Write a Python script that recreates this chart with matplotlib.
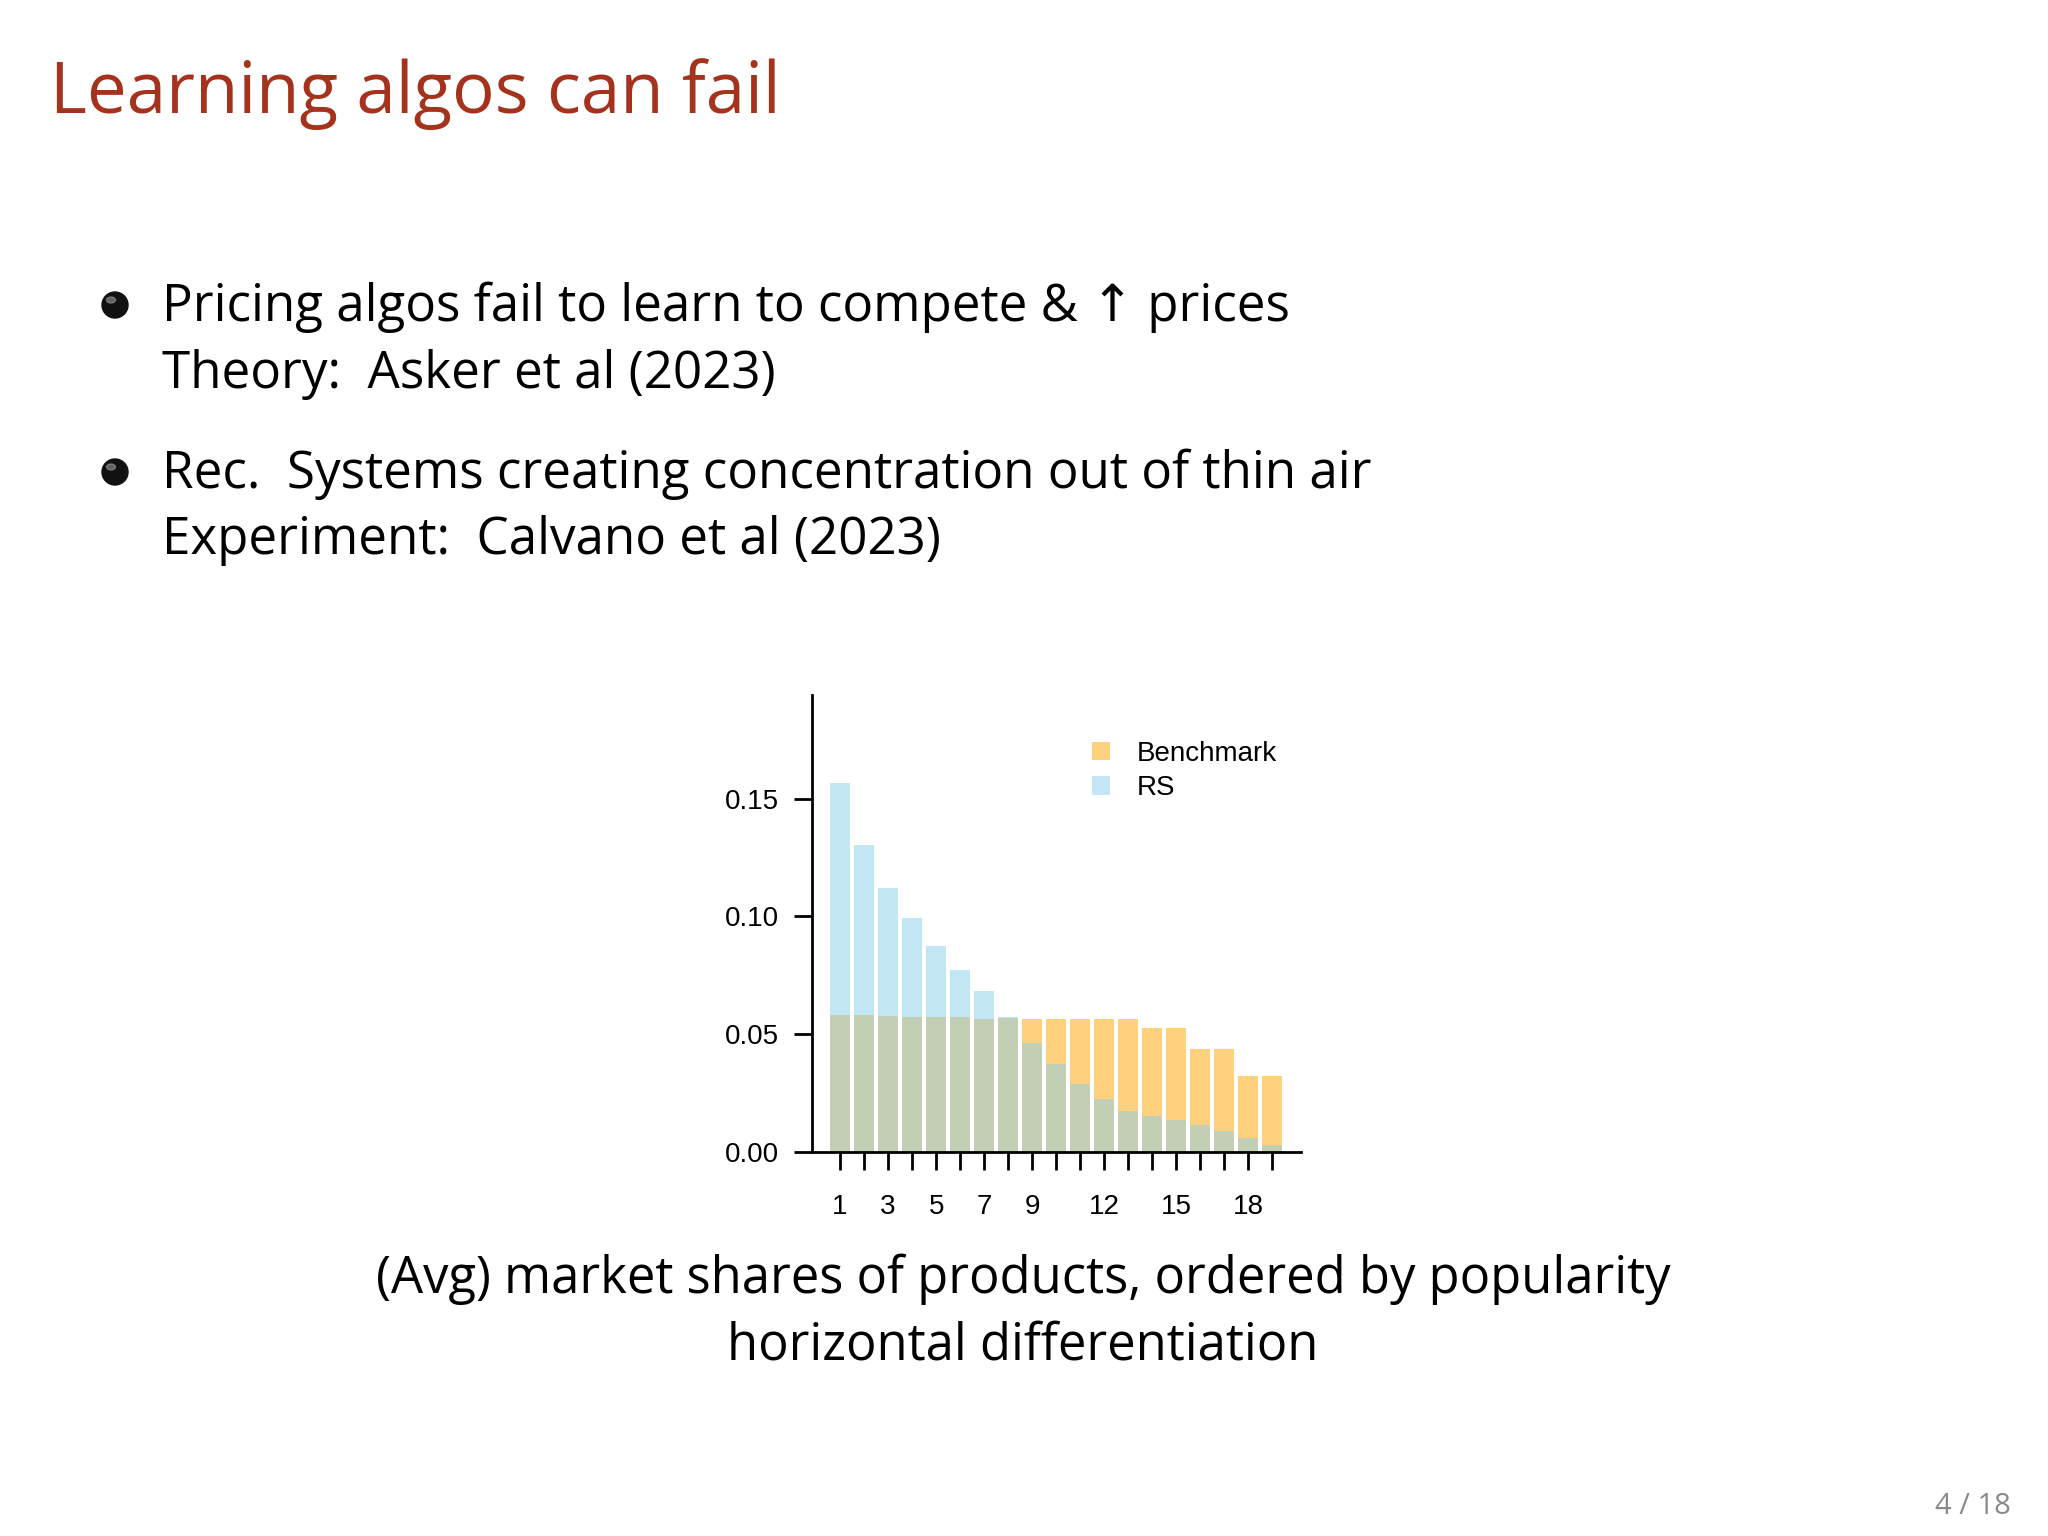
import matplotlib
matplotlib.use('Agg')
import matplotlib.pyplot as plt
from matplotlib.patches import Patch, Circle, Ellipse

# average market share per product, ordered by popularity
products = list(range(1, 20))
benchmark = [0.0580, 0.0581, 0.0577, 0.0575, 0.0571, 0.0571, 0.0566, 0.0568, 0.0566, 0.0566,
             0.0565, 0.0565, 0.0565, 0.0528, 0.0528, 0.0438, 0.0438, 0.0323, 0.0323]
rs = [0.1567, 0.1302, 0.1121, 0.0994, 0.0875, 0.0771, 0.0683, 0.0573, 0.0462, 0.0375,
      0.0290, 0.0225, 0.0176, 0.0152, 0.0135, 0.0116, 0.0091, 0.0060, 0.0029]
xlabels_shown = [1, 3, 5, 7, 9, 12, 15, 18]
yticks = [0.00, 0.05, 0.10, 0.15]

title = "Learning algos can fail"
bullets = [
    ("Pricing algos fail to learn to compete & \u2191 prices", "Theory:  Asker et al (2023)"),
    ("Rec.  Systems creating concentration out of thin air", "Experiment:  Calvano et al (2023)"),
]
caption = ["(Avg) market shares of products, ordered by popularity",
           "horizontal differentiation"]

W, H = 2048, 1536
fig = plt.figure(figsize=(W / 100, H / 100), dpi=100)
fig.patch.set_facecolor('white')

# slide layer in pixel coordinates
bg = fig.add_axes([0, 0, 1, 1])
bg.set_xlim(0, W)
bg.set_ylim(H, 0)
bg.axis('off')

slide_font = ['Open Sans', 'DejaVu Sans']
bg.text(50, 94, title, fontsize=51, color='#a5321c', family=slide_font,
        va='center', ha='left')

ys = [(307, 375), (474, 541)]
for (l1, l2), (y1, y2) in zip(bullets, ys):
    bg.add_patch(Circle((115, y1 - 2), 13, color='#111111', zorder=3))
    bg.add_patch(Ellipse((111, y1 - 7), 9, 6, color='#9a9a9a', alpha=0.6, zorder=4))
    bg.text(162, y1, l1, fontsize=36.8, family=slide_font, va='center', ha='left')
    bg.text(162, y2, l2, fontsize=36.8, family=slide_font, va='center', ha='left')

bg.text(1023, 1279, caption[0], fontsize=36.5, family=slide_font, va='center', ha='center')
bg.text(1023, 1346, caption[1], fontsize=36.5, family=slide_font, va='center', ha='center')
bg.text(2011, 1506, "4 / 18", fontsize=21, family=slide_font, color='#8a8a8a',
        va='center', ha='right')

# bar chart
ax = fig.add_axes([812 / W, 1 - 1152 / H, 489 / W, 457 / H])
ax.bar(products, benchmark, width=0.81, color='orange', alpha=0.5, linewidth=0, label='Benchmark')
ax.bar(products, rs, width=0.81, color='skyblue', alpha=0.5, linewidth=0, label='RS')

ax.set_xlim(-0.17, 20.2)
ax.set_ylim(0, 0.194)
ax.set_facecolor('none')
for s in ['top', 'right']:
    ax.spines[s].set_visible(False)
for s in ['left', 'bottom']:
    ax.spines[s].set_linewidth(2.0)

ax.set_xticks(products)
ax.set_xticklabels([str(p) if p in xlabels_shown else '' for p in products])
ax.set_yticks(yticks)
ax.set_yticklabels([f"{v:.2f}" for v in yticks])
ax.tick_params(axis='both', direction='out', length=13, width=2.0,
               labelsize=20, labelfontfamily='Liberation Sans')
ax.tick_params(axis='x', pad=17)
ax.tick_params(axis='y', pad=11)

handles = [Patch(facecolor='orange', alpha=0.5, linewidth=0),
           Patch(facecolor='skyblue', alpha=0.5, linewidth=0)]
ax.legend(handles, ['Benchmark', 'RS'], loc='upper left', bbox_to_anchor=(0.5726, 0.90),
          frameon=False, borderpad=0, borderaxespad=0, handlelength=0.65,
          handleheight=0.65, handletextpad=0.95, labelspacing=0.3,
          prop={'family': 'Liberation Sans', 'size': 20})

fig.savefig('out.png', dpi=100)
